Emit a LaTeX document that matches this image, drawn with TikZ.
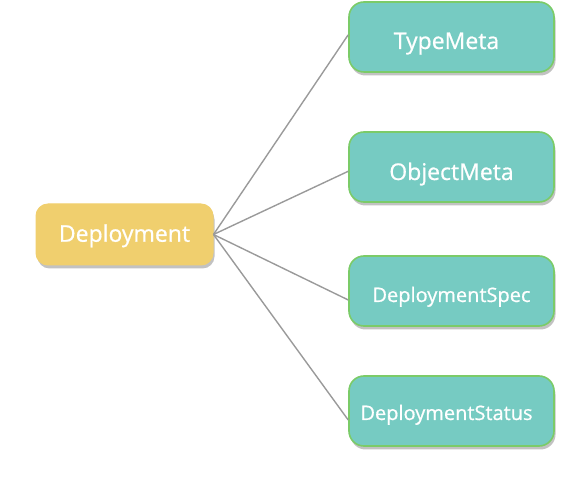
\documentclass[tikz,border=0pt]{standalone}
\usepackage{fontspec}
\setmainfont{Open Sans}
\newfontfamily\boxfont{Open Sans}[FakeBold=0.7]
\usetikzlibrary{shadows,calc}
\definecolor{tealfill}{HTML}{76CBC2}
\definecolor{tealborder}{HTML}{7BCB68}
\definecolor{goldfill}{HTML}{F0CF6E}
\definecolor{linegray}{HTML}{9A9A9A}
\tikzset{
  boxshadow/.style={drop shadow={shadow xshift=1.5pt, shadow yshift=-3.5pt, opacity=0.4, fill=black!60}},
  childbox/.style={draw=tealborder, line width=1.6pt, fill=tealfill, rounded corners=15pt,
    minimum width=205pt, minimum height=70pt, inner sep=0pt, text=white, boxshadow},
  rootbox/.style={draw=goldfill, line width=1pt, fill=goldfill, rounded corners=12pt,
    minimum width=177pt, minimum height=61pt, inner sep=0pt, text=white, boxshadow},
  bigtext/.style={font=\boxfont\fontsize{23}{26}\selectfont},
  smalltext/.style={font=\boxfont\fontsize{20}{23}\selectfont},
  lowered/.style={text height=#1, text depth=0pt},
  conn/.style={draw=linegray, line width=1.4pt}
}
\begin{document}
\begin{tikzpicture}[x=1pt,y=-1pt]
\useasboundingbox (0,0) rectangle (582,478);
\node[rootbox, bigtext, lowered=14.5pt] (dep) at (124.5,234.5) {Deployment};
\node[childbox, bigtext, lowered=24pt] (tm) at (451.5,37) {\hspace{-10pt}TypeMeta};
\node[childbox, bigtext, lowered=26pt] (om) at (451.5,167) {ObjectMeta};
\node[childbox, smalltext, lowered=22pt] (ds) at (451.5,291) {DeploymentSpec};
\node[childbox, smalltext, lowered=18pt] (st) at (451.5,411) {\hspace{-10pt}DeploymentStatus};
\coordinate (hub) at (dep.east);
\draw[conn] (hub) -- ($(tm.north west)!0.47!(tm.south west)$);
\draw[conn] (hub) -- ($(om.north west)!0.56!(om.south west)$);
\draw[conn] (hub) -- ($(ds.north west)!0.625!(ds.south west)$);
\draw[conn] (hub) -- ($(st.north west)!0.625!(st.south west)$);
\end{tikzpicture}
\end{document}
